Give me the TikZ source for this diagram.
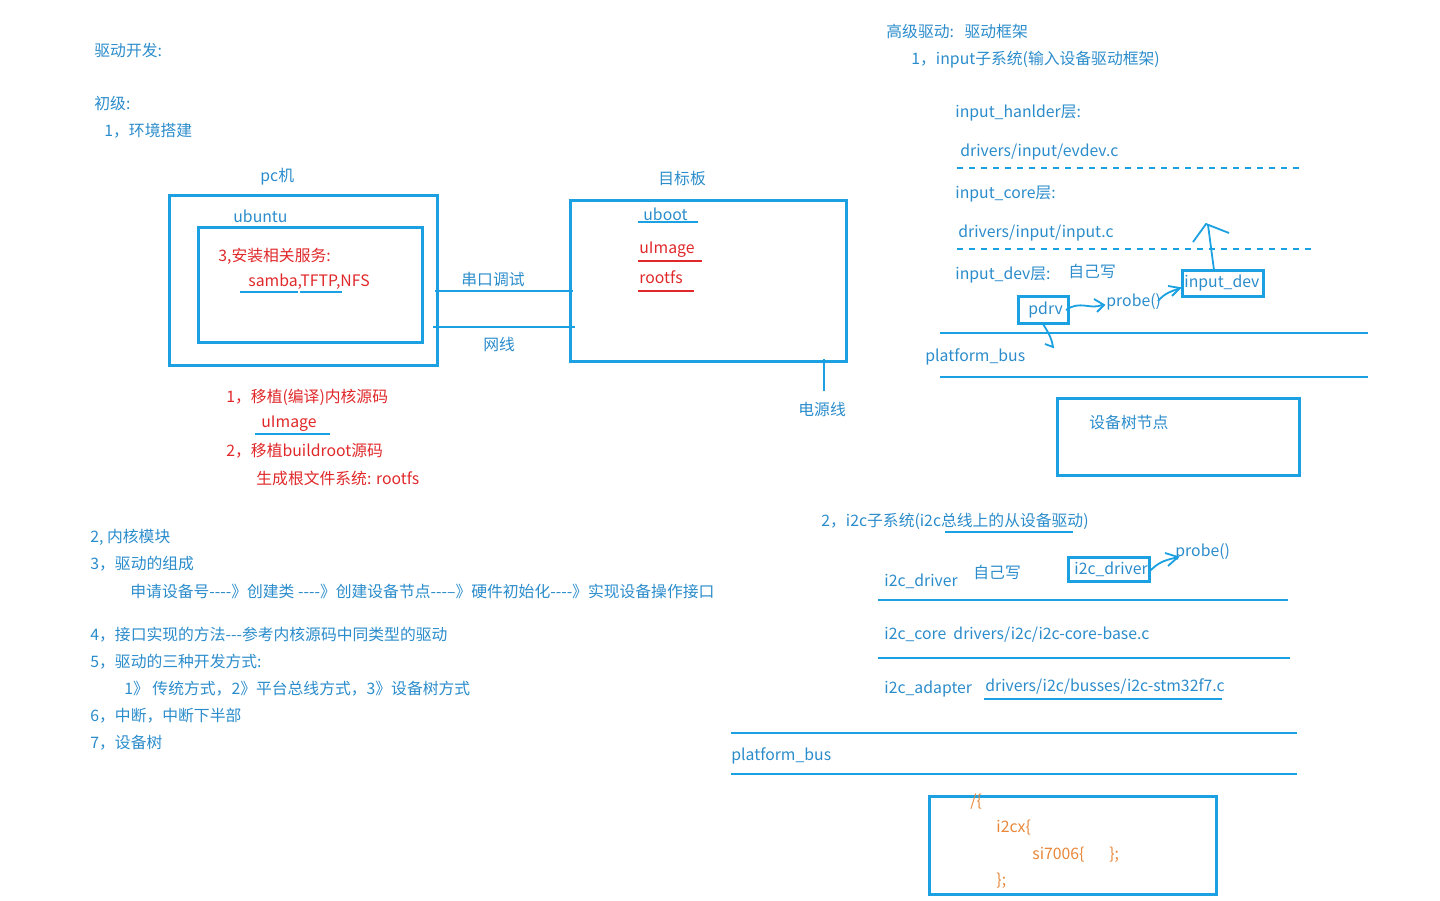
\documentclass[tikz,border=0pt]{standalone}
\usepackage{fontspec}
\setmainfont{Noto Sans CJK SC}
\newcommand{\dd}{-{}-{}-{}-}
\begin{document}
\begin{tikzpicture}[x=0.5pt,y=-0.5pt,
  every node/.style={inner sep=0pt,anchor=west,font=\fontsize{7.9pt}{9pt}\selectfont},
  bt/.style={text=tb}, rt/.style={text=tr}, ot/.style={text=tor},
  bx/.style={draw=lb,line width=1.5pt},
  ln/.style={draw=lb,line width=1.4pt},
  thin/.style={draw=lb,line width=0.8pt},
  rl/.style={draw=tr,line width=0.8pt},
  hand/.style={draw=lb,line width=0.9pt}]
\definecolor{lb}{HTML}{1BA1E2}
\definecolor{tb}{HTML}{2B8CCB}
\definecolor{tr}{HTML}{E0282A}
\definecolor{tor}{HTML}{E8873A}
\useasboundingbox (0,0) rectangle (1440,900);
% left texts
\node[bt] (t1) at (94,50) {驱动开发:};
\node[bt] (t2) at (94,104) {初级:};
\node[bt] (t3) at (104,131) {1，环境搭建};
\node[bt] (pc) at (260,177) {pc机};
\node[bt] (mb) at (658,179) {目标板};
\draw[bx] (169,195) rectangle (437,365);
\node[bt] (ub) at (233,216) {ubuntu};
\draw[bx] (198,227) rectangle (422,342);
\node[rt] (s3) at (218,256) {3,安装相关服务:};
\node[rt] (sv) at (248,282) {samba,TFTP,NFS};
\draw[thin] (240,292) -- (298,292); \draw[thin] (300,292) -- (342,292);
\draw[bx] (570,200) rectangle (846,361);
\node[bt] (uboot) at (643,214) {uboot};
\draw[thin] (638,222) -- (698,222);
\node[rt] (uimg) at (639,250) {uImage};
\draw[rl] (638,261) -- (702,261);
\node[rt] (rfs) at (639,277) {rootfs};
\draw[rl] (638,291) -- (694,291);
\draw[thin] (435,291) -- (573,291);
\draw[thin] (433,327) -- (575,327);
\node[bt] (ck) at (461,279) {串口调试};
\node[bt] (wx) at (483,344) {网线};
\draw[thin] (824,359) -- (824,391);
\node[bt] (dy) at (798,409) {电源线};
\node[rt] (r1) at (226,397) {1，移植(编译)内核源码};
\node[rt] (r2) at (261,424) {uImage};
\draw[thin] (255,434) -- (330,434);
\node[rt] (r3) at (226,451) {2，移植buildroot源码};
\node[rt] (r4) at (256,478) {生成根文件系统: rootfs};
\node[bt] (a2) at (90,537) {2, 内核模块};
\node[bt] (a3) at (90,564) {3，驱动的组成};
\node[bt] (a3b) at (130,591) {申请设备号\dd》创建类 \dd》创建设备节点\dd-》硬件初始化\dd》实现设备操作接口};
\node[bt] (a4) at (90,635) {4，接口实现的方法-{}-{}-参考内核源码中同类型的驱动};
\node[bt] (a5) at (90,662) {5，驱动的三种开发方式:};
\node[bt] (a5b) at (124,689) {1》 传统方式，2》平台总线方式，3》设备树方式};
\node[bt] (a6) at (90,716) {6，中断，中断下半部};
\node[bt] (a7) at (90,743) {7，设备树};
% right top
\node[bt] (h1) at (886,31) {高级驱动:\ \ \ 驱动框架};
\node[bt] (h2) at (911,60) {1，input子系统(输入设备驱动框架)};
\node[bt] (h3) at (955,113) {input\_hanlder层:};
\node[bt] (h4) at (960,152) {drivers/input/evdev.c};
\draw[thin,dashed] (957,168) -- (1304,168);
\node[bt] (h5) at (955,194) {input\_core层:};
\node[bt] (h6) at (958,233) {drivers/input/input.c};
\draw[thin,dashed] (957,249) -- (1311,249);
\node[bt] (h7) at (955,275) {input\_dev层:};
\node[bt] (h8) at (1068,271) {自己写};
\draw[bx] (1018,296) rectangle (1068,323);
\node[bt] (pd) at (1028,310) {pdrv};
\node[bt] (pr) at (1106,302) {probe()};
\draw[bx] (1182,270) rectangle (1263,296);
\node[bt] (id) at (1184,283) {input\_dev};
\draw[hand] (1066,310) .. controls (1080,300) and (1090,310) .. (1102,305);
\draw[hand] (1094,299) -- (1104,305) -- (1097,312);
\draw[hand] (1158,301) .. controls (1165,293) and (1170,292) .. (1180,288);
\draw[hand] (1168,286) -- (1180,288) -- (1172,296);
\draw[hand] (1214,270) -- (1208,225);
\draw[hand] (1193,242) -- (1206,224) -- (1229,233);
\draw[hand] (1043,324) .. controls (1050,335) and (1052,340) .. (1053,347) -- (1045,344);
\draw[ln] (940,333) -- (1368,333);
\node[bt] (pb1) at (925,357) {platform\_bus};
\draw[ln] (940,377) -- (1368,377);
\draw[bx] (1057,398) rectangle (1299,475);
\node[bt] (sbs) at (1089,422) {设备树节点};
% i2c
\node[bt] (i1) at (821,521) {2，i2c子系统(i2c总线上的从设备驱动)};
\draw[thin] (945,532) -- (1073,532);
\node[bt] (i2) at (884,581) {i2c\_driver};
\node[bt] (i3) at (973,572) {自己写};
\draw[bx] (1068,557) rectangle (1149,581);
\node[bt] (i4) at (1074,569) {i2c\_driver};
\node[bt] (i5) at (1175,552) {probe()};
\draw[hand] (1149,572) .. controls (1160,560) and (1168,560) .. (1178,557);
\draw[hand] (1165,553) -- (1178,557) -- (1168,566);
\draw[ln] (878,600) -- (1288,600);
\node[bt] (i6) at (884,635) {i2c\_core\ \ drivers/i2c/i2c-core-base.c};
\draw[ln] (878,658) -- (1290,658);
\node[bt] (i7) at (884,689) {i2c\_adapter};
\node[bt] (i8) at (985,687) {drivers/i2c/busses/i2c-stm32f7.c};
\draw[thin] (984,699) -- (1222,699);
\draw[ln] (731,733) -- (1297,733);
\node[bt] (pb2) at (731,756) {platform\_bus};
\draw[ln] (731,774) -- (1297,774);
\draw[bx] (929,796) rectangle (1216,894);
\node[ot] (o1) at (970,802) {/\{};
\node[ot] (o2) at (996,828) {i2cx\{};
\node[ot] (o3) at (1032,855) {si7006\{\ \ \ \ \ \ \ \};};
\node[ot] (o4) at (996,881) {\};};
\end{tikzpicture}
\end{document}
